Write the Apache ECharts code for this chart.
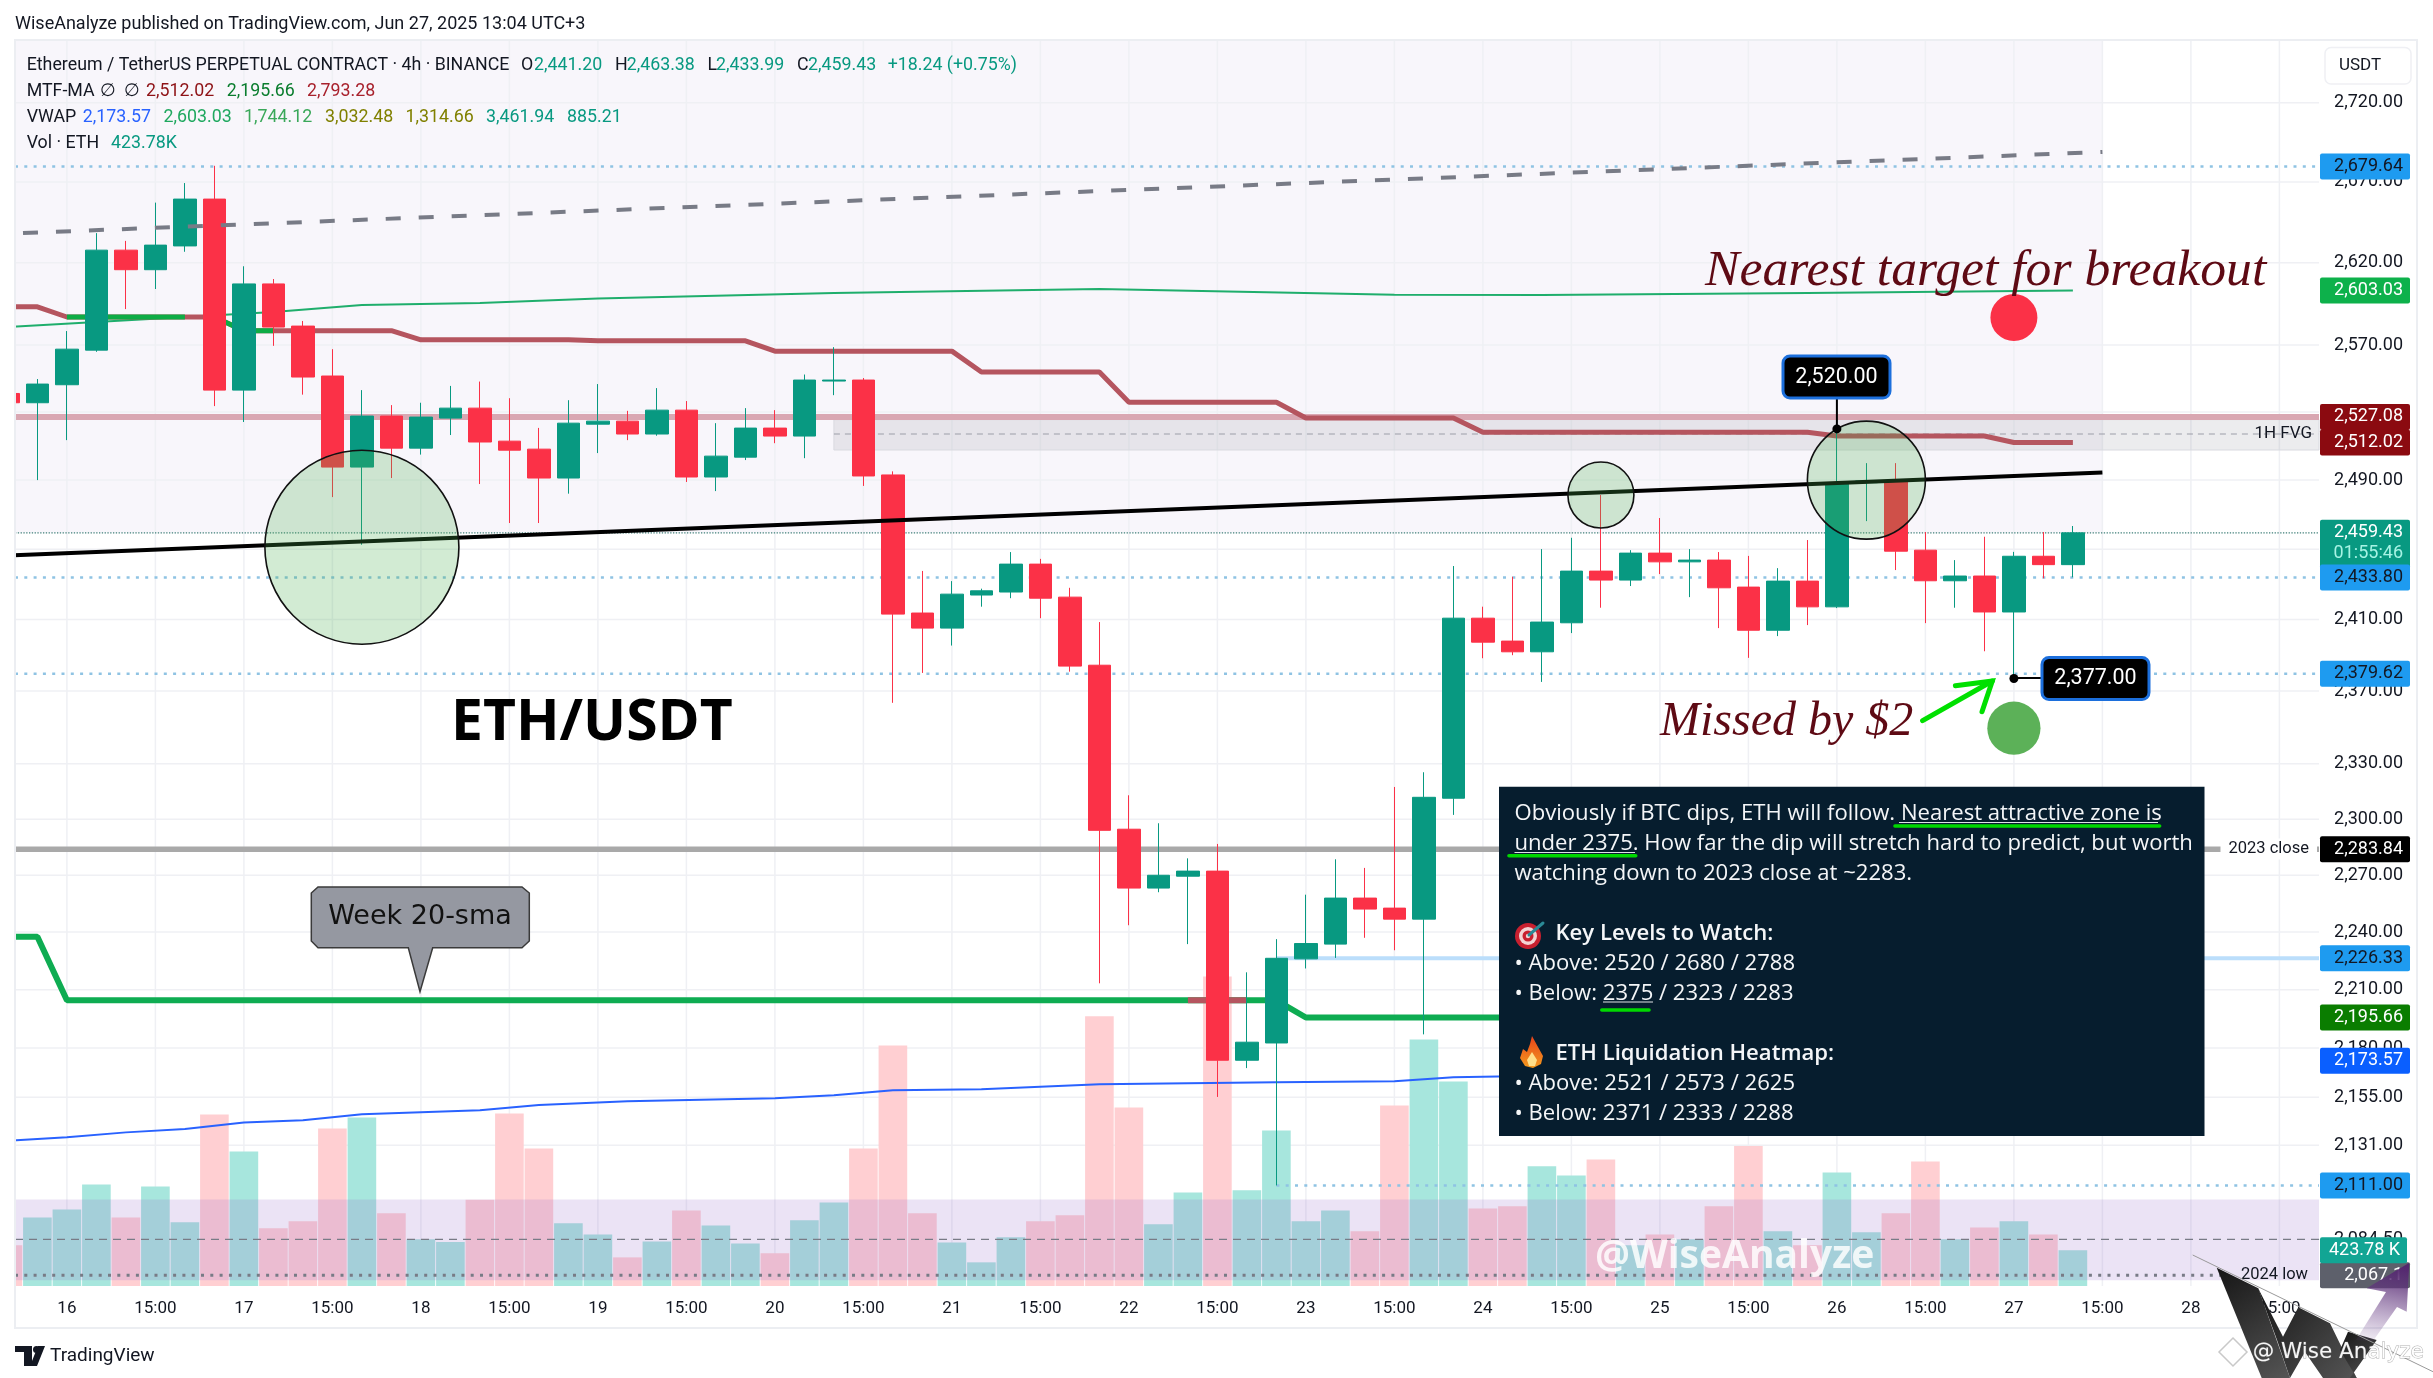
<!DOCTYPE html>
<html>
<head>
<meta charset="utf-8">
<title>ETH/USDT</title>
<style>
    html, body { margin: 0; padding: 0; background: #fff; }
    #chart { width: 2433px; height: 1378px; }
</style>
<script src="https://cdn.jsdelivr.net/npm/echarts@6/dist/echarts.min.js"></script>
</head>
<body>
<div id="chart"></div>
<script>
// candles, 4h =======================================
var opens = [
    2541, 2535.5, 2546.2, 2566.9, 2627.7, 2615.7, 2630.3, 2659.3, 2543, 2607,
    2581.4, 2551.4, 2497.6, 2527.6, 2508.7, 2526.4, 2532.3, 2512.8, 2508.1, 2491.2,
    2522.8, 2524.6, 2517, 2531.1, 2491.8, 2503.4, 2520.5, 2515.8, 2548.4, 2549,
    2493, 2413.7, 2405.2, 2423.9, 2425.6, 2441.5, 2422.7, 2384.4, 2294.6, 2263.2,
    2269.5, 2272.2, 2173.8, 2182.6, 2226, 2233.7, 2257.9, 2252.6, 2246.8, 2311.3,
    2410.8, 2397.9, 2391.9, 2408.2, 2437.5, 2432.4, 2447.8, 2442.8, 2443.8, 2428.4,
    2404, 2431.8, 2417.2, 2488.5, 2489.5, 2449.5, 2432, 2434.7, 2414.3, 2446,
    2441.2
]
var closes = [
    2535.5, 2546.6, 2567.5, 2627.7, 2615.7, 2630.8, 2659.3, 2543, 2607, 2580.8,
    2550.8, 2497.6, 2527.6, 2508.7, 2527, 2532.3, 2512.3, 2507.5, 2491.2, 2523.4,
    2524.6, 2517, 2531.1, 2491.8, 2504, 2520.5, 2515.8, 2549, 2549, 2492.4,
    2413.1, 2405.2, 2424.4, 2426.3, 2441.5, 2422.1, 2383.9, 2294, 2263.2, 2270,
    2272.2, 2173.8, 2183, 2226.3, 2234, 2257.9, 2252.1, 2246.8, 2311.8, 2410.8,
    2397.3, 2391.9, 2408.6, 2437.5, 2432.4, 2447.8, 2442.8, 2443.8, 2428, 2404,
    2431.8, 2417.2, 2488.5, 2489.5, 2448.9, 2432, 2434.7, 2414.3, 2446, 2441.2,
    2459.43
]
var lows = [
    2531, 2490, 2513.4, 2565.9, 2591.7, 2603.9, 2626.7, 2533.5, 2524.1, 2569.5,
    2540.3, 2480.1, 2452.6, 2491.2, 2504.9, 2516.4, 2487.7, 2465.1, 2465.1, 2482.1,
    2505.8, 2513.4, 2516, 2488.9, 2483.6, 2501.7, 2511.6, 2502.8, 2540, 2486.6,
    2363.5, 2380.1, 2395.4, 2417.3, 2422.1, 2410.8, 2380.8, 2213.3, 2243.6, 2261,
    2233.7, 2155.2, 2169.8, 2111, 2221, 2226.5, 2237, 2230.5, 2187, 2302.3,
    2388.3, 2390, 2375.1, 2402.4, 2416.7, 2429, 2435.8, 2422.7, 2405.2, 2388.5,
    2400.7, 2406.9, 2416.5, 2466.2, 2438.1, 2408, 2416.7, 2392.2, 2377, 2433.4,
    2433.99
]
var highs = [
    2546, 2549.6, 2578.4, 2638.2, 2633.4, 2657.1, 2669.3, 2680.1, 2617.8, 2610,
    2584.5, 2567.5, 2543, 2534.1, 2535.5, 2545.5, 2548.1, 2538.2, 2520.6, 2537,
    2546.6, 2530.7, 2544.2, 2536.5, 2523.4, 2532.3, 2531.1, 2552.3, 2568.7, 2550.2,
    2495.1, 2437.6, 2431.8, 2427.5, 2448.4, 2444.5, 2428, 2408.6, 2312.9, 2297.8,
    2279, 2286.7, 2219, 2236.3, 2259.7, 2278.5, 2273.9, 2317.4, 2325.4, 2440.4,
    2417.3, 2434.3, 2450.1, 2456.6, 2481.3, 2449.5, 2468, 2450.1, 2448.4, 2446.2,
    2439.2, 2455.3, 2520, 2499.9, 2499.9, 2459.9, 2443.8, 2457.2, 2448.5, 2459.9,
    2463.38
]
// volume in K
var volumes = [
    483, 815, 910, 1207, 815, 1183, 756, 2038, 1599, 685,
    768, 1872, 2002, 863, 554, 522, 1025, 2050, 1634, 744,
    613, 340, 530, 898, 720, 506, 388, 780, 993, 1634,
    2857, 863, 518, 281, 578, 768, 839, 3205, 2121, 732,
    1112, 3676, 1136, 1848, 768, 898, 649, 2145, 2928, 2430,
    922, 946, 1421, 1314, 1504, 483, 613, 554, 946, 1662,
    649, 483, 1349, 637, 863, 1480, 554, 696, 768, 613,
    423.78
]

// indicators =========================================
var mtfIdx = [0, 1, 2, 6, 7, 8, 9, 13, 14, 19, 20, 25, 26, 32, 33, 37, 38, 43, 44, 49, 50, 61, 62, 67, 68, 70]
var mtfVals = [2593.1, 2593.1, 2586.9, 2586.9, 2586.9, 2578.6, 2578.6, 2578.6, 2573.1, 2573.1, 2572.5, 2572.5, 2566.3, 2566.3, 2553.8, 2553.8, 2535.8, 2535.8, 2526.5, 2526.5, 2518, 2518, 2515.8, 2515.8, 2512.02, 2512.02]
var mtfGreenAIdx = [2, 6]
var mtfGreenAVals = [2586.9, 2586.9]
var mtfGreenBIdx = [7, 8, 9]
var mtfGreenBVals = [2586.9, 2578.6, 2578.6]

var weekIdx = [0, 1, 2, 40, 42, 43, 44, 70]
var weekVals = [2237.6, 2237.6, 2204.5, 2204.5, 2204.5, 2204.5, 2195.66, 2195.66]
var weekRedIdx = [40, 42]
var weekRedVals = [2204.5, 2204.5]

var vwapGreenIdx = [0, 9, 12, 16, 20, 28, 37, 47, 52, 61, 70]
var vwapGreenVals = [2580.8, 2589.9, 2594.2, 2595.4, 2598.2, 2601.5, 2603.9, 2600.4, 2600.3, 2601.5, 2603.03]
var vwapBlueIdx = [0, 2, 4, 6, 8, 10, 12, 16, 18, 21, 26, 28, 30, 33, 37, 43, 47, 49, 51, 70]
var vwapBlueVals = [2133.2, 2135, 2137.4, 2139.1, 2142.3, 2143.5, 2146.5, 2148.5, 2151.1, 2153, 2154.5, 2156, 2158.6, 2159.1, 2161.6, 2162.6, 2163.1, 2165.2, 2165.7, 2173.57]

var dashTrendIdx = [0, 71]
var dashTrendVals = [2637.9, 2688.8]
var blackTrendIdx = [0, 71]
var blackTrendVals = [2446.5, 2494.4]

// axes ===============================================
var timeLabels = []
var dayNames = ['16', '17', '18', '19', '20', '21', '22', '23', '24', '25', '26', '27', '28']
for (var n = 0; n < 79; n++) {
    var step = n - 2
    if (step >= 0 && step % 6 === 0) {
        timeLabels.push(dayNames[step / 6])
    } else if (step >= 0 && step % 6 === 3) {
        timeLabels.push('15:00')
    } else {
        timeLabels.push('')
    }
}
var gridDays = [2, 5, 8, 11, 14, 17, 20, 23, 26, 29, 32, 35, 38, 41, 44, 47, 50, 53, 56, 59, 62, 65, 68, 71, 74, 77]
var priceTicks = [2720, 2670, 2620, 2570, 2490, 2410, 2370, 2330, 2300, 2270, 2240, 2210, 2180, 2155, 2131, 2084.5]
var priceGrid = [2720, 2670, 2620, 2570, 2530, 2490, 2450, 2410, 2370, 2330, 2300, 2270, 2240, 2210, 2180, 2155, 2131]
var priceMin = 2061.9
var priceMax = 2760.2
var volumeMax = 14800

// horizontal levels ==================================
var levelPrices = [2679.64, 2527.08, 2517, 2459.43, 2433.8, 2379.62, 2283.84, 2226.33, 2111, 2084.5, 2067.1]
var levelStarts = [0, 0, 28, 0, 0, 0, 0, 43, 43, 0, 0]
var levelEnds = [78.8, 78.8, 78.8, 78.8, 78.8, 78.8, 78.8, 78.8, 78.8, 78.8, 75.2]
var levelColors = ['#8fc3e3', '#d9a7b2', '#9b9ea8', '#3f7f78', '#8fc3e3', '#8fc3e3', '#a9a9a9', '#bbdefb', '#8fc3e3', '#787b86', '#787b86']
var levelWidths = [2.5, 6, 1.2, 1.2, 2.5, 2.5, 5.5, 4, 2.5, 1.2, 3]
var levelDashes = [[3, 6.3], null, [6, 5], [1.3, 1.5], [3, 6.3], [3, 6.3], null, null, [3, 6.3], [8, 6], [3, 6.3]]

// price tags on the right ============================
var tagPrices = [2679.64, 2603.03, 2527.08, 2512.02, 2459.43, 2433.8, 2379.62, 2283.84, 2226.33, 2195.66, 2173.57, 2111, 2067.1]
var tagTexts = ['2,679.64', '2,603.03', '2,527.08', '2,512.02', '2,459.43', '2,433.80', '2,379.62', '2,283.84', '2,226.33', '2,195.66', '2,173.57', '2,111.00', '2,067.1']
var tagFills = ['#1e9bf0', '#0db14b', '#8b0a10', '#8b0a10', '#089981', '#1e9bf0', '#1e9bf0', '#000000', '#1e9bf0', '#0a7d00', '#0a5fff', '#1e9bf0', '#5d606b']
var tagInks = ['#131722', '#ffffff', '#ffffff', '#ffffff', '#ffffff', '#131722', '#131722', '#ffffff', '#131722', '#ffffff', '#ffffff', '#131722', '#ffffff']

// annotations that hang on a candle and a price =======
var circleIdx = [12, 54, 63]
var circlePrices = [2451.2, 2481.3, 2490]
var circleRadii = [97, 33, 59]
var dotIdx = [68, 68, 62, 68]
var dotPrices = [2586.6, 2349.5, 2520, 2377]
var dotRadii = [23.5, 26.6, 4.5, 4.5]
var dotColors = ['#fb3147', '#5cb158', '#000000', '#000000']

function pairs(xs, ys) {
    return xs.map(function (x, k) {
        return [x, ys[k]]
    })
}

function lineSeries(name, xs, ys, color, width, z, dash, dashOffset) {
    return {
        name: name,
        type: 'line',
        data: pairs(xs, ys),
        symbol: 'none',
        silent: true,
        z: z,
        lineStyle: { color: color, width: width, type: dash || 'solid', dashOffset: dashOffset || 0 }
    }
}

function drawSeries(name, data, z, render, axisIndex) {
    return {
        name: name,
        type: 'custom',
        data: data,
        z: z,
        silent: true,
        yAxisIndex: axisIndex || 0,
        encode: { x: 0, y: 1 },
        renderItem: render
    }
}

var gridRight = 2319
var fontPrice = '18px Roboto'

var candleData = opens.map(function (o, k) {
    return [o, closes[k], lows[k], highs[k]]
})
var volumeData = volumes.map(function (v, k) {
    return {
        value: v,
        itemStyle: { color: closes[k] >= opens[k] ? '#a7e6dd' : '#ffcfd2' }
    }
})

var series = [
    // purple background of the upper zone
    drawSeries('zone', [[0, 2459.43]], 0, function (params, api) {
        var a = api.coord([71, priceMax])
        var b = api.coord([71, api.value(1)])
        return {
            type: 'rect',
            shape: { x: 15, y: a[1], width: a[0] - 15, height: b[1] - a[1] },
            style: { fill: '#f8f6fb' }
        }
    }),
    drawSeries('gridH', priceGrid.map(function (p) { return [0, p] }), 1, function (params, api) {
        var y = api.coord([0, api.value(1)])[1]
        return {
            type: 'line',
            shape: { x1: 15, y1: y, x2: gridRight, y2: y },
            style: { stroke: '#eff0f4', lineWidth: 1.5 }
        }
    }),
    drawSeries('gridV', gridDays.map(function (d) { return [d, priceMin] }), 1, function (params, api) {
        var x = api.coord([api.value(0), priceMin])[0]
        return {
            type: 'line',
            shape: { x1: x, y1: 40, x2: x, y2: 1286 },
            style: { stroke: '#eff0f4', lineWidth: 1.5 }
        }
    }),
    {
        name: 'Vol',
        type: 'bar',
        data: volumeData,
        yAxisIndex: 1,
        barCategoryGap: '3%',
        silent: true,
        z: 2
    },
    // volume band and the 1H FVG box
    drawSeries('bands', [[0, 2104.1, 2064.7], [28, 2525.5, 2507.6]], 3, function (params, api) {
        var top = api.coord([api.value(0), api.value(1)])
        var bottom = api.coord([api.value(0), api.value(2)])
        var first = params.dataIndex === 0
        var left = first ? 15 : top[0]
        return {
            type: 'rect',
            shape: { x: left, y: top[1], width: gridRight - left, height: bottom[1] - top[1] },
            style: first ? { fill: 'rgba(155,115,205,0.2)' } : { fill: 'rgba(120,123,134,0.14)', stroke: '#d9dae0', lineWidth: 1 }
        }
    }),
    drawSeries('levels', levelPrices.map(function (p, k) { return [levelStarts[k], p] }), 3, function (params, api) {
        var k = params.dataIndex
        var y = api.coord([0, api.value(1)])[1]
        var x1 = levelStarts[k] === 0 ? 15 : api.coord([levelStarts[k], api.value(1)])[0]
        var x2 = levelEnds[k] > 78 ? gridRight : 2228
        return {
            type: 'line',
            shape: { x1: x1, y1: y, x2: x2, y2: y },
            style: { stroke: levelColors[k], lineWidth: levelWidths[k], lineDash: levelDashes[k] }
        }
    }),
    lineSeries('VWAP', vwapBlueIdx, vwapBlueVals, '#2962ff', 2, 4),
    lineSeries('VWAP upper', vwapGreenIdx, vwapGreenVals, '#1fae6c', 2, 4),
    lineSeries('MTF-MA', mtfIdx, mtfVals, '#b5555f', 5, 4),
    lineSeries('MTF-MA', mtfGreenAIdx, mtfGreenAVals, '#0eac45', 5, 4),
    lineSeries('MTF-MA', mtfGreenBIdx, mtfGreenBVals, '#0eac45', 5, 4),
    lineSeries('Week 20-sma', weekIdx, weekVals, '#0eac52', 6, 4),
    lineSeries('Week 20-sma', weekRedIdx, weekRedVals, '#b5555f', 6, 4),
    {
        name: 'ETH',
        type: 'candlestick',
        data: candleData,
        barWidth: 23,
        silent: true,
        z: 5,
        itemStyle: {
            color: '#089981',
            color0: '#fb3147',
            borderColor: '#089981',
            borderColor0: '#fb3147',
            borderWidth: 1
        }
    },
    lineSeries('trend', dashTrendIdx, dashTrendVals, '#787b86', 4, 6, [15, 18], 17.9),
    lineSeries('trend', blackTrendIdx, blackTrendVals, '#000000', 4, 6),
    drawSeries('circles', pairs(circleIdx, circlePrices), 7, function (params, api) {
        var c = api.coord([api.value(0), api.value(1)])
        return {
            type: 'circle',
            shape: { cx: c[0], cy: c[1], r: circleRadii[params.dataIndex] },
            style: { fill: 'rgba(76,175,80,0.25)', stroke: '#111', lineWidth: 1.6 }
        }
    }),
    drawSeries('dots', pairs(dotIdx, dotPrices), 8, function (params, api) {
        var c = api.coord([api.value(0), api.value(1)])
        return {
            type: 'circle',
            shape: { cx: c[0], cy: c[1], r: dotRadii[params.dataIndex] },
            style: { fill: dotColors[params.dataIndex] }
        }
    }),
    drawSeries('ticks', priceTicks.map(function (p) { return [0, p] }), 40, function (params, api) {
        var y = api.coord([0, api.value(1)])[1]
        return {
            type: 'text',
            x: 2403,
            y: y,
            style: {
                text: api.value(1).toLocaleString('en-US', { minimumFractionDigits: 2, maximumFractionDigits: 2 }),
                font: fontPrice,
                fill: '#131722',
                align: 'right',
                verticalAlign: 'middle'
            }
        }
    }),
    drawSeries('tags', tagPrices.map(function (p) { return [0, p] }), 41, function (params, api) {
        var k = params.dataIndex
        var y = api.coord([0, api.value(1)])[1]
        var tall = tagTexts[k] === '2,459.43'
        return {
            type: 'group',
            children: [
                {
                    type: 'rect',
                    shape: { x: 2320, y: y - 13, width: 90, height: tall ? 48 : 26, r: 2 },
                    style: { fill: tagFills[k] }
                },
                {
                    type: 'text',
                    x: 2403,
                    y: y,
                    style: { text: tagTexts[k], font: fontPrice, fill: tagInks[k], align: 'right', verticalAlign: 'middle' },
                    z2: 2
                }
            ]
        }
    }),
    drawSeries('volTag', [[0, 423.78]], 41, function (params, api) {
        var y = api.coord([0, api.value(1)])[1]
        return {
            type: 'group',
            children: [
                {
                    type: 'rect',
                    shape: { x: 2320, y: y - 13, width: 87, height: 26, r: 2 },
                    style: { fill: '#12a594' }
                },
                {
                    type: 'text',
                    x: 2400,
                    y: y,
                    style: { text: '423.78 K', font: fontPrice, fill: '#fff', align: 'right', verticalAlign: 'middle' },
                    z2: 2
                }
            ]
        }
    }, 1)
]

// text and drawings ==================================
var graphics = []

function text(x, y, str, color, font, align, z) {
    var el = {
        type: 'text',
        x: x,
        y: y,
        z: z || 100,
        silent: true,
        style: { text: str, fill: color, font: font, align: align || 'left', verticalAlign: 'middle' }
    }
    graphics.push(el)
    return el
}

function shape(type, shapeOpt, style, z) {
    graphics.push({ type: type, shape: shapeOpt, style: style, z: z || 100, silent: true })
}

var ink = '#131722'
var up = '#089981'
var fontHead = '17.8px Roboto'

// frame, and the white strip that clips the left side
shape('rect', { x: 0, y: 38, width: 14.5, height: 1295 }, { fill: '#fff' }, 60)
shape('rect', { x: 15, y: 40, width: 2402, height: 1288 }, { fill: 'none', stroke: '#eceef2', lineWidth: 2 }, 61)

text(15, 24, 'WiseAnalyze published on TradingView.com, Jun 27, 2025 13:04 UTC+3', ink, '18px Roboto')

var legendRows = [
    [26.7, 66, 'Ethereum / TetherUS PERPETUAL CONTRACT · 4h · BINANCE', ink],
    [521, 66, 'O', ink], [534, 66, '2,441.20', up],
    [615, 66, 'H', ink], [626.7, 66, '2,463.38', up],
    [707.4, 66, 'L', ink], [716, 66, '2,433.99', up],
    [797, 66, 'C', ink], [808, 66, '2,459.43', up],
    [887.7, 66, '+18.24 (+0.75%)', up],
    [26.7, 91.5, 'MTF-MA', ink], [100, 91.5, '∅', ink], [123.5, 91.5, '∅', ink],
    [146, 91.5, '2,512.02', '#8e1216'], [226.7, 91.5, '2,195.66', '#0a7d2e'], [307, 91.5, '2,793.28', '#a8212c'],
    [26.7, 117.5, 'VWAP', ink], [82.8, 117.5, '2,173.57', '#2962ff'], [163.5, 117.5, '2,603.03', '#1fa85f'],
    [244, 117.5, '1,744.12', '#3aa85a'], [325, 117.5, '3,032.48', '#808000'], [405.6, 117.5, '1,314.66', '#808000'],
    [486, 117.5, '3,461.94', up], [567, 117.5, '885.21', up],
    [26.7, 143.5, 'Vol · ETH', ink], [111, 143.5, '423.78K', up]
]
legendRows.forEach(function (r) {
    text(r[0], r[1], r[2], r[3], fontHead)
})

// right scale
shape('rect', { x: 2325, y: 47.5, width: 86, height: 36.5, r: 6 }, { fill: '#fff', stroke: '#eff0f4', lineWidth: 1.5 }, 42)
text(2360, 65.5, 'USDT', ink, '17px Roboto', 'center')
text(2403, 553.5, '01:55:46', '#a7f3e4', fontPrice, 'right')
text(2312, 434, '1H FVG', ink, '17px Roboto', 'right')
var closeLabel = text(2317, 849, '2023 close', ink, '16.5px Roboto', 'right')
closeLabel.style.backgroundColor = '#fff'
closeLabel.style.padding = [2, 8]
text(2308, 1275, '2024 low', ink, '16.5px Roboto', 'right')

text(451, 724, 'ETH/USDT', '#000', 'bold 57px "Open Sans"')

// week 20-sma callout
shape('polygon', { points: [[311.3, 893], [311.3, 941], [318, 947.7], [408.3, 947.7], [420, 991.7], [432.7, 947.7], [522, 947.7], [529.3, 941], [529.3, 893], [522, 887], [318, 887]] },
    { fill: '#9598a1', stroke: '#3a3a3a', lineWidth: 1.5 })
text(420, 917, 'Week 20-sma', '#111', '27px "DejaVu Sans"', 'center')

// handwriting
text(1705, 271, 'Nearest target for breakout', '#5e0a14', 'italic 51.7px "Liberation Serif"')
text(1660, 722, 'Missed by $2', '#5e0a14', 'italic 48px "Liberation Serif"')

shape('polyline', { points: [[1922.6, 720.7], [1992.3, 681]] }, { stroke: '#00e000', lineWidth: 5, fill: 'none', lineCap: 'round' })
shape('polyline', { points: [[1955.4, 685.7], [1992.3, 681], [1982, 711.7]] }, { stroke: '#00e000', lineWidth: 5, fill: 'none', lineCap: 'round' })

// price callouts
shape('line', { x1: 1836.9, y1: 398, x2: 1836.9, y2: 428 }, { stroke: '#000', lineWidth: 2 }, 95)
shape('rect', { x: 1783, y: 356, width: 107, height: 42, r: 7 }, { fill: '#000', stroke: '#1c6fdc', lineWidth: 3 }, 95)
text(1836.5, 378, '2,520.00', '#fff', '21.5px Roboto', 'center')
shape('line', { x1: 2014, y1: 678, x2: 2042, y2: 678 }, { stroke: '#000', lineWidth: 2 }, 95)
shape('rect', { x: 2042, y: 657.5, width: 107, height: 42, r: 7 }, { fill: '#000', stroke: '#1c6fdc', lineWidth: 3 }, 95)
text(2095.5, 679, '2,377.00', '#fff', '21.5px Roboto', 'center')

// note box
shape('rect', { x: 1499, y: 786.7, width: 705.5, height: 349.3 }, { fill: '#061d2e' }, 90)
var noteFont = '22.1px "Open Sans"'
var noteBold = '600 22.1px "Open Sans"'
var noteRows = [
    [1514.5, 814, 'Obviously if BTC dips, ETH will follow. Nearest attractive zone is', noteFont],
    [1514.5, 844, 'under 2375. How far the dip will stretch hard to predict, but worth', noteFont],
    [1514.5, 874, 'watching down to 2023 close at ~2283.', noteFont],
    [1555.5, 934, 'Key Levels to Watch:', noteBold],
    [1514.5, 964, '• Above: 2520 / 2680 / 2788', noteFont],
    [1514.5, 994, '• Below: 2375 / 2323 / 2283', noteFont],
    [1555.5, 1054, 'ETH Liquidation Heatmap:', noteBold],
    [1514.5, 1084, '• Above: 2521 / 2573 / 2625', noteFont],
    [1514.5, 1114, '• Below: 2371 / 2333 / 2288', noteFont]
]
noteRows.forEach(function (r) {
    text(r[0], r[1], r[2], '#f4f6f8', r[3])
})
var underlines = [[1899, 2158, 822.5], [1514.5, 1635, 852.5], [1603, 1653, 1002]]
underlines.forEach(function (u) {
    shape('line', { x1: u[0], y1: u[2], x2: u[1], y2: u[2] }, { stroke: '#dfe3e6', lineWidth: 1.2 })
})
var highlights = [[1895, 2159.6, 826], [1509, 1635.7, 855.7], [1601.8, 1649, 1010]]
highlights.forEach(function (u) {
    shape('line', { x1: u[0], y1: u[2], x2: u[1], y2: u[2] }, { stroke: '#00d800', lineWidth: 3.6, lineCap: 'round' })
})

// target and flame, drawn because no emoji font is installed
shape('circle', { cx: 1528, cy: 936, r: 13 }, { fill: '#c8202f' })
shape('circle', { cx: 1528, cy: 936, r: 9 }, { fill: '#f3d4d4' })
shape('circle', { cx: 1528, cy: 936, r: 5.5 }, { fill: '#c8202f' })
shape('circle', { cx: 1528, cy: 936, r: 2.2 }, { fill: '#f3d4d4' })
shape('line', { x1: 1529, y1: 935, x2: 1543, y2: 923 }, { stroke: '#2a8a96', lineWidth: 3, lineCap: 'round' })
shape('polygon', { points: [[1532, 1036], [1538, 1047], [1543, 1056], [1541, 1064], [1533, 1068], [1525, 1066], [1520, 1058], [1523, 1049], [1527, 1052], [1530, 1044]] },
    { fill: { type: 'linear', x: 0, y: 0, x2: 0, y2: 1, colorStops: [{ offset: 0, color: '#e8431a' }, { offset: 1, color: '#f39a1e' }] } })
shape('polygon', { points: [[1532, 1052], [1537, 1060], [1535, 1066], [1529, 1066], [1527, 1060]] }, { fill: '#ffe08a' })

// watermarks
text(1595, 1257, '@WiseAnalyze', 'rgba(255,255,255,0.82)', 'bold 39px "Open Sans"', 'left', 62)

var darkFill = { type: 'linear', x: 0, y: 0, x2: 1, y2: 1, colorStops: [{ offset: 0, color: '#151515' }, { offset: 1, color: '#555555' }] }
shape('polygon', { points: [[2216.7, 1267.7], [2258.3, 1288.3], [2290, 1378], [2261.7, 1378]] }, { fill: darkFill }, 110)
shape('polygon', { points: [[2258, 1288], [2283, 1336.7], [2298.3, 1307.3], [2330, 1323.3], [2356.7, 1378], [2323, 1378], [2305, 1352], [2290, 1378], [2277, 1340]] }, { fill: darkFill }, 110)
shape('polygon', { points: [[2348, 1331.7], [2376.7, 1340], [2350, 1378], [2356.7, 1378], [2340, 1350]] }, { fill: darkFill }, 110)
shape('polygon', { points: [[2409.3, 1262.7], [2366.7, 1288.3], [2386, 1292], [2356, 1340], [2373, 1341], [2397, 1307], [2406.7, 1311.7]] },
    { fill: { type: 'linear', x: 0.5, y: 0, x2: 0.2, y2: 1, colorStops: [{ offset: 0, color: '#54276f' }, { offset: 1, color: 'rgba(120,80,150,0.1)' }] } }, 110)
shape('line', { x1: 2192.7, y1: 1255, x2: 2433, y2: 1371.7 }, { stroke: '#999', lineWidth: 1 }, 110)
shape('polygon', { points: [[2233, 1338], [2247, 1352], [2233, 1366], [2219, 1352]] }, { fill: 'rgba(255,255,255,0.8)', stroke: '#c9c9c9', lineWidth: 1.5 }, 111)
var wiseLabel = text(2252.7, 1352, '@ Wise Analyze', 'rgba(255,255,255,0.95)', '21.5px "DejaVu Sans"', 'left', 112)
wiseLabel.style.stroke = 'rgba(110,110,110,0.55)'
wiseLabel.style.lineWidth = 1

// TradingView mark at the bottom left
shape('polygon', { points: [[15, 1346], [32, 1346], [32, 1366], [24, 1366], [24, 1352], [15, 1352]] }, { fill: '#131722' })
shape('circle', { cx: 36.5, cy: 1349.5, r: 3.5 }, { fill: '#131722' })
shape('polygon', { points: [[38, 1346], [45, 1346], [37, 1366], [30, 1366]] }, { fill: '#131722' })
text(50, 1356, 'TradingView', ink, '19px Roboto')

var myChart = echarts.init(document.getElementById('chart'))

var option = {
    animation: false,
    backgroundColor: '#ffffff',
    grid: { left: -6.85, right: 109.35, top: 40, bottom: 92, containLabel: false, outerBoundsMode: 'none' },
    xAxis: {
        type: 'category',
        data: timeLabels,
        axisLine: { show: false },
        axisTick: { show: false },
        splitLine: { show: false },
        axisLabel: { interval: 0, margin: 14, color: ink, fontFamily: 'Roboto', fontSize: 17 }
    },
    yAxis: [
        {
            type: 'log',
            min: priceMin,
            max: priceMax,
            axisLine: { show: false },
            axisTick: { show: false },
            axisLabel: { show: false },
            splitLine: { show: false }
        },
        {
            type: 'value',
            min: 0,
            max: volumeMax,
            axisLine: { show: false },
            axisTick: { show: false },
            axisLabel: { show: false },
            splitLine: { show: false }
        }
    ],
    series: series,
    graphic: { elements: graphics }
}
myChart.setOption(option)
</script>
</body>
</html>
